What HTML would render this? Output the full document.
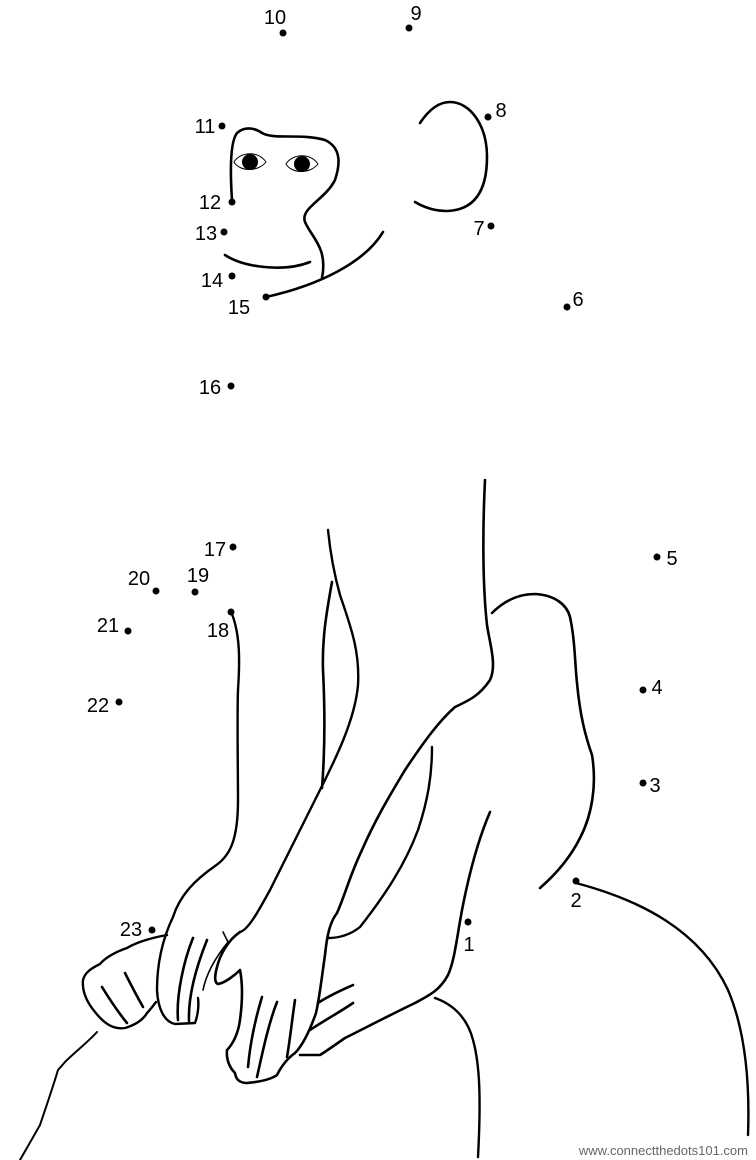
<!DOCTYPE html>
<html><head><meta charset="utf-8"><style>
html,body{margin:0;padding:0;background:#fff;}
svg{display:block;}
text{font-family:"Liberation Sans",sans-serif;font-size:20px;fill:#000;}
</style></head><body>
<svg width="756" height="1160" viewBox="0 0 756 1160" xmlns="http://www.w3.org/2000/svg">
<g fill="none" stroke="#000" stroke-width="2.6" stroke-linecap="round" stroke-linejoin="round">
<!-- face -->
<path d="M232,200 C230,170 230,142 237,133 C245,126 255,128 262,133 C275,140 300,133 325,140 C342,148 340,165 335,180 C325,200 300,208 305,222 C312,238 328,248 322,278"/>
<path d="M225,255 C245,268 285,272 310,262"/>
<path d="M266,297 C320,285 365,262 383,232"/>
<!-- ear -->
<path d="M420,123 C430,108 440,102 450,102 C470,102 487,125 487,157 C487,190 475,210 447,211 C435,211 425,208 415,202"/>
<!-- left arm (from 18) -->
<path d="M232,614 C240,635 240,660 238,690 C237,720 238,770 238,800 C238,840 230,856 215,866 C195,880 180,895 173,917 C162,940 157,965 157,990 C158,1010 165,1022 175,1024 L195,1023 C198,1015 199,1005 198,998" stroke-width="2.4"/>
<path d="M193,938 C184,960 176,995 178,1020"/>
<path d="M207,940 C197,965 188,995 189,1021"/>
<path d="M223,932 L228,942 C215,958 206,975 203,990" stroke-width="1.6"/>
<!-- fist -->
<path d="M167,935 C150,938 135,943 127,948 C115,952 105,958 100,964 C92,968 85,972 83,980 C82,990 85,1000 95,1012 C103,1022 112,1030 125,1028 C135,1025 143,1020 147,1013 C150,1010 153,1006 156,1002" stroke-width="2.4"/>
<path d="M102,987 C110,1000 118,1012 127,1023"/>
<path d="M125,973 C132,987 138,998 143,1007"/>
<path d="M97,1032 C88,1042 75,1052 65,1062 L58,1070 C52,1090 45,1110 40,1125 L20,1160" stroke-width="2"/>
<!-- arm outer -->
<path d="M328,530 C330,550 333,570 340,595 C350,625 360,650 358,685 C355,720 335,760 320,790 C305,820 285,860 270,890 C258,912 248,930 240,932" stroke-width="2.4"/>
<path d="M332,582 C326,615 322,640 323,670 C325,710 325,750 322,788"/>
<!-- right hand -->
<path d="M240,932 C228,940 220,955 217,967 C214,978 215,983 218,984 C225,983 235,975 240,970 C243,985 242,1005 240,1020 C238,1035 232,1045 227,1050 C226,1060 230,1068 235,1073 C236,1080 240,1083 247,1083 C258,1082 270,1080 277,1075 C282,1065 288,1058 295,1053 C303,1045 310,1030 316,1013 C320,995 322,975 325,955 C327,935 330,922 337,913" stroke-width="2.6"/>
<path d="M262,997 C255,1020 250,1045 248,1067"/>
<path d="M277,1002 C268,1025 262,1055 257,1077"/>
<path d="M295,1000 C292,1020 290,1040 287,1057"/>
<path d="M318,1003 C330,995 342,990 353,985"/>
<path d="M310,1030 C325,1020 340,1012 353,1003"/>
<!-- leg from 484 -->
<path d="M485,480 C483,520 482,580 487,625 C490,645 497,665 490,680 C480,695 470,700 455,707 C440,720 425,740 405,770 C390,795 375,820 362,850 C350,875 345,895 337,913" stroke-width="2.6"/>
<path d="M432,747 C432,775 428,800 418,830 C405,865 385,895 360,927 C350,935 340,938 328,938" stroke-width="2.4"/>
<path d="M490,812 C478,840 470,870 463,905 C457,935 455,960 448,975 C440,990 430,995 415,1003 C390,1015 365,1028 345,1038 C335,1045 325,1052 320,1055 L300,1055" stroke-width="2.6"/>
<path d="M435,998 C455,1005 468,1020 473,1040 C480,1065 481,1100 478,1157" stroke-width="2.4"/>
<!-- back leg -->
<path d="M492,613 C505,600 520,594 535,594 C555,595 567,605 570,617 C575,640 575,665 577,683 C580,715 585,735 592,755 C597,785 592,815 580,838 C570,858 555,875 540,888" stroke-width="2.6"/>
<!-- tail -->
<path d="M576,883 C640,900 700,930 728,990 C745,1030 750,1080 748,1135" stroke-width="2.4"/>
</g>
<!-- eyes -->
<path d="M234,162 C240,152 258,150 266,162 C258,172 240,172 234,162 Z" fill="#fff" stroke="#000" stroke-width="1"/>
<path d="M286,164 C292,154 310,152 318,164 C310,174 292,174 286,164 Z" fill="#fff" stroke="#000" stroke-width="1"/>
<circle cx="250" cy="162" r="8" fill="#000"/>
<circle cx="302" cy="164" r="8" fill="#000"/>
<!-- dots -->
<g fill="#000">
<circle cx="468" cy="922" r="3.5"/><circle cx="576" cy="881" r="3.5"/><circle cx="643" cy="783" r="3.5"/>
<circle cx="643" cy="690" r="3.5"/><circle cx="657" cy="557" r="3.5"/><circle cx="567" cy="307" r="3.5"/>
<circle cx="491" cy="226" r="3.5"/><circle cx="488" cy="117" r="3.5"/><circle cx="409" cy="28" r="3.5"/>
<circle cx="283" cy="33" r="3.5"/><circle cx="222" cy="126" r="3.5"/><circle cx="232" cy="202" r="3.5"/>
<circle cx="224" cy="232" r="3.5"/><circle cx="232" cy="276" r="3.5"/><circle cx="266" cy="297" r="3.5"/>
<circle cx="231" cy="386" r="3.5"/><circle cx="233" cy="547" r="3.5"/><circle cx="231" cy="612" r="3.5"/>
<circle cx="195" cy="592" r="3.5"/><circle cx="156" cy="591" r="3.5"/><circle cx="128" cy="631" r="3.5"/>
<circle cx="119" cy="702" r="3.5"/><circle cx="152" cy="930" r="3.5"/>
</g>
<g text-anchor="middle">
<text x="469" y="951">1</text><text x="576" y="907">2</text><text x="655" y="792">3</text>
<text x="657" y="694">4</text><text x="672" y="565">5</text><text x="578" y="306">6</text>
<text x="479" y="235">7</text><text x="501" y="117">8</text><text x="416" y="20">9</text>
<text x="275" y="24">10</text><text x="205" y="133">11</text><text x="210" y="209">12</text>
<text x="206" y="240">13</text><text x="212" y="287">14</text><text x="239" y="314">15</text>
<text x="210" y="394">16</text><text x="215" y="556">17</text><text x="218" y="637">18</text>
<text x="198" y="582">19</text><text x="139" y="585">20</text><text x="108" y="632">21</text>
<text x="98" y="712">22</text><text x="131" y="936">23</text>
</g>
<text x="748" y="1155" text-anchor="end" style="font-size:13px;fill:#666;">www.connectthedots101.com</text>
</svg>
</body></html>
